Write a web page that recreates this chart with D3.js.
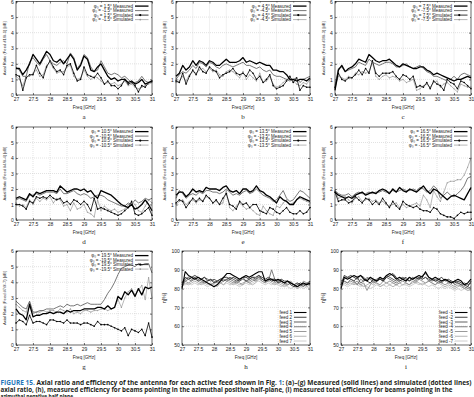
<!DOCTYPE html>
<html>
<head>
<meta charset="utf-8">
<script src="https://cdn.jsdelivr.net/npm/d3@7"></script>
<style>
	body { margin: 0; background: #fff; }
	svg { display: block; }
</style>
</head>
<body>
<svg id="fig" width="474" height="397"></svg>
<script>
// frequency samples [GHz]
var freq = [27,27.1,27.2,27.3,27.4,27.5,27.6,27.7,27.8,27.9,28,28.1,28.2,28.3,28.4,28.5,28.6,28.7,28.8,28.9,29,29.1,29.2,29.3,29.4,29.5,29.6,29.7,29.8,29.9,30,30.1,30.2,30.3,30.4,30.5,30.6,30.7,30.8,30.9,31];
var xTicks = [27,27.5,28,28.5,29,29.5,30,30.5,31];
var arTicks = [0,1,2,3,4,5,6];
var effTicks = [50,60,70,80,90,100];
var arAngles = [1.5,4.5,7.5,10.5,13.5,16.5,19.5];
var feedLabelsPos = ["feed 1","feed 2","feed 3","feed 4","feed 5","feed 6","feed 7"];
var feedLabelsNeg = ["feed -1","feed -2","feed -3","feed -4","feed -5","feed -6","feed -7"];

// axial ratio [dB]: measured +phi, measured -phi, simulated +phi, simulated -phi
var arA_mp = [1.7,1.7,1.3,1.6,2.0,2.6,2.3,2.0,2.4,2.8,2.6,2.2,2.1,2.3,2.0,2.3,2.6,2.3,1.6,1.9,2.5,2.3,1.6,1.5,1.8,2.0,1.6,1.2,1.0,1.1,0.9,1.0,1.0,0.8,0.9,0.7,0.8,1.0,0.7,0.8,0.9];
var arA_mn = [1.8,1.6,1.2,1.2,2.1,2.4,2.1,1.9,2.3,2.6,2.2,2.0,1.9,2.1,2.2,2.0,2.7,2.4,1.7,2.0,2.6,2.4,1.8,1.5,1.6,2.2,1.8,1.4,1.3,1.4,1.3,1.1,1.2,1.0,0.8,0.8,0.9,1.2,0.9,0.8,0.8];
var arA_sp = [1.3,1.2,0.3,1.1,1.3,1.3,1.9,1.4,1.1,1.8,2.2,1.8,1.5,1.6,1.3,1.9,2.0,1.4,0.9,1.0,1.8,1.3,1.2,1.1,1.4,1.1,0.7,0.9,0.6,0.6,0.4,0.6,1.0,0.7,0.8,0.6,0.2,0.6,0.5,0.8,0.9];
var arA_sn = [1.2,1.0,0.6,1.2,1.2,1.4,1.6,1.2,1.3,1.9,2.1,1.7,1.4,1.5,1.5,1.8,1.9,1.2,1.0,1.1,1.6,1.2,1.0,1.2,1.1,0.9,0.7,0.8,0.7,0.8,0.6,0.7,0.9,0.6,0.7,0.5,0.4,0.5,0.6,0.7,0.8];

var arB_mp = [1.2,1.4,1.9,1.6,1.8,2.2,1.9,2.2,2.1,1.9,2.2,2.1,1.9,1.9,2.1,2.3,2.1,2.1,2.1,2.2,2.4,2.1,2.2,2.1,2.0,2.1,2.0,1.9,1.9,1.6,1.6,1.5,1.5,1.3,1.0,1.0,0.9,1.0,1.0,0.9,1.1];
var arB_mn = [1.0,1.3,1.5,1.4,1.6,1.9,1.7,2.1,2.0,1.8,2.1,2.0,1.8,1.7,1.9,2.0,1.9,1.8,1.9,2.0,2.1,1.9,1.9,1.8,1.7,1.8,1.6,1.5,1.6,1.3,1.2,1.2,1.1,1.0,0.9,1.0,1.1,0.8,1.0,1.1,1.2];
var arB_sp = [0.9,0.8,1.4,0.7,1.2,1.6,1.3,1.8,1.5,1.4,1.8,1.6,1.5,1.1,1.3,1.4,1.5,1.7,1.4,1.3,1.4,1.2,1.6,1.4,1.0,1.2,0.8,1.0,1.3,0.6,0.4,0.5,0.6,0.9,1.2,0.8,1.1,0.3,0.6,0.5,0.5];
var arB_sn = [0.8,0.9,1.2,0.9,1.3,1.5,1.4,1.6,1.7,1.5,1.7,1.5,1.6,1.3,1.2,1.5,1.6,1.5,1.3,1.1,1.5,1.0,1.3,1.1,0.9,1.4,0.8,0.9,1.2,0.7,0.5,0.6,0.8,1.0,1.0,0.9,0.7,0.6,0.8,0.7,1.0];

var arC_mp = [0.3,1.6,1.9,1.5,1.7,1.8,2.0,2.3,2.2,2.1,2.6,2.4,2.2,2.1,2.2,2.2,2.3,2.1,1.9,1.8,2.0,1.9,1.8,1.7,1.7,1.8,1.8,1.6,1.5,1.3,1.4,1.3,1.2,1.1,1.0,0.9,1.0,1.0,1.1,1.2,1.1];
var arC_mn = [0.6,1.7,1.8,1.5,1.6,1.7,1.8,2.1,2.0,1.9,2.3,2.1,2.0,1.9,2.0,2.1,2.1,2.0,1.8,1.8,1.9,2.0,1.8,1.7,1.8,1.9,1.7,1.5,1.4,1.2,1.2,1.1,1.0,0.9,1.0,1.2,1.0,1.3,1.4,1.3,1.2];
var arC_sp = [0.5,1.4,1.0,0.9,1.1,1.1,1.3,1.6,1.3,1.7,1.4,2.2,1.4,1.2,1.4,1.4,1.4,1.5,1.2,1.0,1.3,1.2,1.0,1.2,0.5,0.6,0.5,0.8,0.4,0.9,0.7,0.6,0.3,1.0,0.8,0.7,0.4,0.9,0.8,0.6,0.4];
var arC_sn = [0.4,1.2,1.1,1.0,1.2,1.1,1.4,1.3,1.5,1.4,1.5,2.1,1.2,1.0,1.2,1.3,1.1,1.2,1.1,0.9,1.0,0.8,0.9,1.0,0.3,0.4,0.6,0.7,0.5,0.8,0.9,0.5,0.7,0.8,0.6,0.4,0.2,0.7,0.6,0.5,0.5];

var arD_mp = [1.4,1.5,1.4,1.3,1.7,1.5,1.8,1.7,1.8,1.9,1.9,1.9,1.8,2.2,2.0,1.8,1.9,2.0,2.0,1.9,2.0,1.8,1.9,1.6,1.4,1.9,1.8,1.7,1.6,1.4,1.2,1.0,0.9,0.8,1.0,0.7,0.8,1.0,1.3,1.0,0.6];
var arD_mn = [1.3,1.4,1.3,1.2,1.6,1.6,1.7,1.6,1.7,1.8,1.8,1.8,1.7,2.0,1.7,1.7,1.8,1.9,1.7,1.6,1.7,1.6,1.4,1.5,1.6,1.6,1.5,1.3,1.2,1.1,1.0,0.9,0.9,1.1,1.0,1.3,1.1,1.2,1.4,1.3,1.4];
var arD_sp = [1.0,1.0,0.9,0.7,1.2,1.1,1.5,1.4,1.5,1.4,1.6,1.4,1.3,1.4,1.1,1.2,1.0,1.3,1.2,1.0,1.2,1.0,0.6,1.4,0.7,0.8,0.7,0.6,0.5,0.4,0.3,0.4,0.6,0.8,1.2,0.4,0.3,0.4,0.6,0.8,0.3];
var arD_sn = [1.1,0.9,1.0,0.8,1.3,1.0,1.4,1.2,1.4,1.3,1.5,1.1,1.4,1.3,0.9,1.0,0.6,1.1,0.7,0.8,1.0,0.5,0.4,0.2,1.3,0.6,0.9,0.7,0.6,0.7,0.5,0.6,0.7,1.0,1.1,1.0,0.6,0.5,0.9,1.3,1.1];

var arE_mp = [1.6,1.8,1.8,1.5,1.7,2.0,1.8,1.9,1.8,2.1,2.0,2.0,2.0,1.9,2.1,2.2,1.9,1.8,1.9,1.7,2.0,2.0,1.8,1.9,2.2,1.9,1.8,1.6,1.5,1.3,1.1,1.5,1.3,1.2,1.0,1.0,1.3,1.5,1.4,1.3,1.2];
var arE_mn = [1.4,1.9,1.7,1.4,1.6,1.7,1.6,1.8,1.7,1.9,1.9,1.8,1.8,1.7,1.8,2.0,1.8,1.6,1.7,1.6,1.8,1.9,1.7,1.8,2.0,1.8,1.6,1.5,1.4,1.2,1.3,1.6,1.9,1.4,1.2,1.3,1.6,1.9,1.8,1.6,1.4];
var arE_sp = [1.1,1.3,1.2,0.8,1.1,1.4,1.2,1.4,1.2,1.6,1.4,1.1,1.3,1.0,1.4,1.7,1.0,0.9,0.7,1.2,1.0,1.1,0.8,1.0,1.0,0.6,0.5,0.4,0.8,0.7,0.5,0.4,0.6,0.8,0.5,0.4,0.4,0.6,0.4,0.5,0.8];
var arE_sn = [1.0,1.2,1.3,1.0,1.2,1.3,1.1,1.3,1.2,1.5,1.4,1.1,1.2,1.0,1.1,1.9,0.8,0.6,0.9,1.1,0.9,0.7,0.8,0.6,0.4,0.3,0.9,0.6,0.4,0.3,0.9,0.8,1.1,1.3,1.0,1.1,1.3,1.4,1.3,1.2,1.1];

var arF_mp = [1.8,1.6,1.5,1.4,1.5,1.4,1.6,1.7,1.8,1.6,1.7,1.8,1.7,1.9,2.0,1.9,1.7,2.0,1.8,2.1,1.9,1.8,2.0,1.9,1.8,2.0,2.2,1.9,1.7,2.0,1.9,1.7,1.5,1.3,1.5,1.6,1.5,1.4,1.3,1.7,2.1];
var arF_mn = [1.9,1.7,1.6,1.6,1.7,1.5,1.7,1.8,1.7,1.7,1.8,1.7,1.8,1.8,1.9,1.8,1.8,1.9,1.8,1.9,2.0,1.9,1.9,2.0,1.9,2.1,2.0,1.8,1.9,2.2,2.0,1.4,1.6,1.8,1.6,1.5,1.7,1.9,2.2,2.7,2.8];
var arF_sp = [1.8,1.2,1.3,1.3,1.1,1.2,1.5,1.3,1.1,1.4,1.3,1.0,1.2,1.0,1.4,1.1,0.8,1.2,0.9,0.7,1.2,1.0,0.9,0.8,0.9,0.7,0.6,0.6,0.5,0.8,0.7,0.4,0.3,0.2,0.2,0.1,0.3,0.5,0.4,0.5,0.5];
var arF_sn = [1.9,1.4,1.5,1.5,1.3,1.1,1.4,1.5,1.2,1.3,1.4,1.2,1.3,1.1,1.2,1.0,0.9,1.0,1.1,0.8,1.0,0.8,0.9,1.0,1.1,0.9,1.6,1.3,0.8,1.9,1.5,1.2,1.8,2.4,2.5,2.5,2.6,2.6,2.9,3.4,4.0];

var arG_mp = [2.3,2.0,1.9,1.6,2.6,1.8,1.9,1.9,2.0,2.0,2.1,2.0,2.1,2.1,2.0,2.2,2.1,2.2,2.2,2.2,2.3,2.3,2.3,2.3,2.4,2.4,2.3,2.5,2.3,2.4,3.1,2.9,3.4,3.2,3.5,3.1,3.6,3.2,3.7,3.6,3.7];
var arG_mn = [2.8,2.6,2.4,2.3,2.8,2.1,2.1,2.2,2.2,2.3,2.3,2.3,2.4,2.5,2.4,2.6,2.5,2.5,2.6,2.5,2.6,2.7,2.6,2.6,2.6,2.6,2.9,3.3,3.6,4.0,4.5,4.9,5.0,5.1,5.1,5.0,5.2,5.1,5.2,5.2,4.6];
var arG_sp = [1.4,1.6,1.5,1.3,1.9,1.4,1.5,1.5,1.4,1.3,1.6,1.6,1.5,1.5,1.4,1.6,1.4,1.4,1.4,1.3,1.4,1.4,1.3,1.2,1.5,1.3,1.3,1.3,1.2,1.1,1.0,0.9,1.1,0.6,1.0,0.9,0.8,1.0,0.6,1.4,0.5];
var arG_sn = [2.6,2.4,2.2,2.1,2.7,2.0,2.1,2.1,2.2,2.1,2.2,2.2,2.1,2.3,2.2,2.1,2.3,2.0,2.1,2.0,2.2,2.2,2.1,2.2,2.2,2.3,2.3,2.2,2.3,2.4,2.9,2.4,3.0,3.4,3.6,3.2,3.5,3.8,2.9,4.3,3.0];

// efficiency [%], feeds 1..7 (h) and -1..-7 (i)
var effH1 = [80,89,87,86,85,86,85,84,83,82,81,82,84,86,88,88,87,86,85,86,87,86,87,88,89,89,84,85,85,84,85,84,83,84,83,82,81,82,83,82,83];
var effH2 = [83,86,85,86,87,86,85,86,84,85,83,84,85,86,86,85,86,85,84,86,86,85,86,86,87,86,85,86,85,85,84,85,84,84,82,81,82,83,82,82,84];
var effH3 = [82,85,86,85,86,84,85,86,85,84,85,84,85,84,85,86,85,84,85,86,84,85,86,85,87,85,84,85,84,85,83,84,83,84,83,82,83,82,81,83,82];
var effH4 = [81,84,85,84,86,85,84,83,84,85,84,83,84,85,84,85,84,83,84,85,84,84,85,84,86,85,84,84,90,85,83,84,83,82,83,82,81,82,83,82,83];
var effH5 = [83,84,83,84,85,84,83,84,83,82,83,84,83,84,85,84,83,84,83,82,84,83,84,85,86,84,83,85,84,83,84,83,82,83,84,82,83,82,84,83,84];
var effH6 = [81,83,82,83,84,83,82,83,82,83,82,81,83,82,84,83,82,83,82,83,84,83,82,83,85,84,83,84,83,82,83,82,81,82,83,82,80,81,82,81,82];
var effH7 = [82,82,83,82,83,82,83,82,81,82,83,82,83,82,83,82,83,82,81,82,83,82,83,84,84,83,82,83,82,83,82,81,82,81,80,81,80,81,80,81,80];

var effI1 = [80,86,85,86,87,86,87,85,84,86,85,84,86,85,87,88,87,85,86,85,84,86,85,86,87,86,89,86,85,86,85,84,85,84,83,84,85,84,82,83,85];
var effI2 = [82,87,86,87,86,85,87,86,84,83,85,84,85,84,86,87,88,86,84,85,86,84,85,86,85,87,88,86,85,84,85,86,84,85,84,83,84,83,82,81,84];
var effI3 = [84,85,86,85,84,86,83,84,85,86,84,85,86,84,87,86,85,84,85,86,85,84,86,85,86,85,86,85,84,85,84,83,85,84,83,84,83,82,83,82,83];
var effI4 = [82,84,83,85,84,82,85,84,86,85,83,84,85,84,86,85,84,83,84,85,84,86,85,84,86,85,86,84,85,84,83,84,85,83,84,82,83,82,81,80,81];
var effI5 = [83,84,83,84,83,84,82,83,79,82,84,83,82,84,83,84,83,82,83,84,83,82,84,83,85,84,83,84,83,82,84,83,82,83,82,81,82,81,80,81,80];
var effI6 = [81,83,82,83,82,83,82,81,82,83,82,83,81,82,83,82,81,82,83,82,83,82,83,84,83,82,83,84,83,82,83,82,81,82,81,80,81,82,80,79,80];
var effI7 = [82,82,81,82,83,82,81,82,81,80,81,82,81,82,81,82,83,82,81,82,82,81,82,83,82,83,82,81,82,81,80,81,80,81,80,79,80,79,80,79,79];

var svg = d3.select("#fig");
var SANS = "'Liberation Sans', Arial, sans-serif";

// line styles: measured +, measured -, simulated +, simulated -
var arStyles = [
	{ color: "#000", width: 1.3, r: 0 },
	{ color: "#555", width: 0.8, r: 0 },
	{ color: "#000", width: 0.8, r: 0.8 },
	{ color: "#9a9a9a", width: 0.7, r: 0.6 }
];
var effColors = ["#000", "#2e2e2e", "#4e4e4e", "#6e6e6e", "#8e8e8e", "#adadad", "#c8c8c8"];

function drawPanel(p) {
	var x = d3.scaleLinear().domain([27, 31]).range([p.x0, p.x1]);
	var y = d3.scaleLinear().domain([p.yTicks[0], p.yTicks[p.yTicks.length - 1]]).range([p.y1, p.y0]);
	var g = svg.append("g");

	// dotted grid
	g.selectAll(".gx").data(xTicks.slice(1, -1)).enter().append("line")
		.attr("x1", d => x(d)).attr("x2", d => x(d))
		.attr("y1", p.y0).attr("y2", p.y1)
		.attr("stroke", "#c4c4c4").attr("stroke-width", 0.5).attr("stroke-dasharray", "1,1");
	g.selectAll(".gy").data(p.yTicks.slice(1, -1)).enter().append("line")
		.attr("x1", p.x0).attr("x2", p.x1)
		.attr("y1", d => y(d)).attr("y2", d => y(d))
		.attr("stroke", "#c4c4c4").attr("stroke-width", 0.5).attr("stroke-dasharray", "1,1");

	// axes with small inward ticks on all four sides
	var xa = g.append("g").attr("transform", "translate(0," + p.y1 + ")")
		.call(d3.axisBottom(x).tickValues(xTicks).tickSize(-2).tickPadding(2.6).tickFormat(d => d));
	var xt = g.append("g").attr("transform", "translate(0," + p.y0 + ")")
		.call(d3.axisTop(x).tickValues(xTicks).tickSize(-2).tickFormat(""));
	var ya = g.append("g").attr("transform", "translate(" + p.x0 + ",0)")
		.call(d3.axisLeft(y).tickValues(p.yTicks).tickSize(-2).tickPadding(2.2).tickFormat(d => d));
	var yr = g.append("g").attr("transform", "translate(" + p.x1 + ",0)")
		.call(d3.axisRight(y).tickValues(p.yTicks).tickSize(-2).tickFormat(""));
	[xa, xt, ya, yr].forEach(function(a) {
		a.attr("font-size", 5).attr("font-family", SANS);
		a.select(".domain").remove();
		a.selectAll(".tick line").attr("stroke", "#000").attr("stroke-width", 0.5);
		a.selectAll(".tick text").attr("fill", "#222");
	});

	g.append("text")
		.text("Freq [GHz]")
		.attr("x", (p.x0 + p.x1) / 2)
		.attr("y", p.y1 + 13.5)
		.attr("text-anchor", "middle")
		.attr("fill", "#222")
		.style("font-size", "4.6px")
		.style("font-family", SANS);

	var yl = g.append("text")
		.text(p.yLabel)
		.attr("transform", "translate(" + (p.x0 - p.yLabelOff) + "," + ((p.y0 + p.y1) / 2) + ") rotate(-90)")
		.attr("text-anchor", "middle")
		.attr("fill", "#222")
		.style("font-size", p.yLabelSize + "px")
		.style("font-family", SANS);
	if (p.yLabelLen) yl.attr("textLength", p.yLabelLen).attr("lengthAdjust", "spacingAndGlyphs");

	g.append("text")
		.text(p.letter)
		.attr("x", (p.x0 + p.x1) / 2)
		.attr("y", p.y1 + p.letterOff)
		.attr("text-anchor", "middle")
		.attr("fill", "#222")
		.style("font-size", "7px")
		.style("font-family", "'Liberation Serif', serif");

	// legend background hides the grid behind the key
	if (p.legendTop) {
		g.append("rect")
			.attr("x", p.x1 - 63).attr("y", p.y0 + 1)
			.attr("width", 62).attr("height", 21)
			.attr("fill", "#fff");
	}

	var line = d3.line().x((d, i) => x(freq[i])).y(d => y(d));
	var order = d3.range(p.series.length).reverse();
	order.forEach(function(k) {
		var s = p.series[k];
		g.append("path")
			.datum(s.values)
			.attr("d", line)
			.attr("fill", "none")
			.attr("stroke", s.color)
			.attr("stroke-width", s.width)
			.attr("stroke-linejoin", "round");
		if (s.r > 0) {
			g.selectAll(null).data(s.values).enter().append("circle")
				.attr("cx", (d, i) => x(freq[i]))
				.attr("cy", d => y(d))
				.attr("r", s.r)
				.attr("fill", s.color);
		}
	});

	// key
	var n = p.series.length;
	var key = g.append("g").style("font-family", SANS).style("font-size", p.keySize + "px");
	p.series.forEach(function(s, i) {
		var cy = p.legendTop ? p.y0 + 4.6 + i * 4.5 : p.y1 - 4 - (n - 1 - i) * 4.75;
		key.append("text")
			.text(s.label)
			.attr("x", p.x1 - p.keyTextOff)
			.attr("y", cy + 1.6)
			.attr("text-anchor", "end")
			.attr("fill", "#222");
		key.append("line")
			.attr("x1", p.x1 - p.keyTextOff + 2).attr("x2", p.x1 - 3.5)
			.attr("y1", cy).attr("y2", cy)
			.attr("stroke", s.color).attr("stroke-width", s.width);
		if (s.r > 0) {
			key.append("circle")
				.attr("cx", p.x1 - (p.keyTextOff + 1.5) / 2 - 1.5).attr("cy", cy)
				.attr("r", s.r + 0.3).attr("fill", s.color);
		}
	});

	// frame
	g.append("rect")
		.attr("x", p.x0).attr("y", p.y0)
		.attr("width", p.x1 - p.x0).attr("height", p.y1 - p.y0)
		.attr("fill", "none").attr("stroke", "#000").attr("stroke-width", 0.6);
}

var arData = [
	[arA_mp, arA_mn, arA_sp, arA_sn],
	[arB_mp, arB_mn, arB_sp, arB_sn],
	[arC_mp, arC_mn, arC_sp, arC_sn],
	[arD_mp, arD_mn, arD_sp, arD_sn],
	[arE_mp, arE_mn, arE_sp, arE_sn],
	[arF_mp, arF_mn, arF_sp, arF_sn],
	[arG_mp, arG_mn, arG_sp, arG_sn]
];
var effH = [effH1, effH2, effH3, effH4, effH5, effH6, effH7];
var effI = [effI1, effI2, effI3, effI4, effI5, effI6, effI7];

var colX = [[16, 152], [176, 310], [335, 471]];
var rowY = [[1.5, 95], [127, 220], [251, 345]];
var letters = ["a", "b", "c", "d", "e", "f", "g"];

arData.forEach(function(sets, k) {
	var a = arAngles[k];
	var names = [
		"\u03c6\u2080 = " + a + "\u00b0 Measured",
		"\u03c6\u2080 = -" + a + "\u00b0 Measured",
		"\u03c6\u2080 = " + a + "\u00b0 Simulated",
		"\u03c6\u2080 = -" + a + "\u00b0 Simulated"
	];
	var c = colX[k % 3], r = rowY[Math.floor(k / 3)];
	drawPanel({
		x0: c[0], x1: c[1], y0: r[0], y1: r[1],
		yTicks: arTicks,
		yLabel: "Axial Ratio (Feed #" + (k + 1) + "/#-" + (k + 1) + ") [dB]",
		yLabelOff: 10.5, yLabelSize: 4.2, yLabelLen: 54,
		letter: letters[k], letterOff: 24,
		legendTop: true, keySize: 4.5, keyTextOff: 19,
		series: sets.map(function(v, i) {
			return { values: v, label: names[i], color: arStyles[i].color, width: arStyles[i].width, r: arStyles[i].r };
		})
	});
});

[[effH, feedLabelsPos, [182, 310], "h"], [effI, feedLabelsNeg, [341, 471], "i"]].forEach(function(e) {
	drawPanel({
		x0: e[2][0], x1: e[2][1], y0: rowY[2][0], y1: rowY[2][1],
		yTicks: effTicks,
		yLabel: "\u03b7[%]",
		yLabelOff: 16, yLabelSize: 5,
		letter: e[3], letterOff: 24,
		legendTop: false, keySize: 4.5, keyTextOff: 18,
		series: e[0].map(function(v, i) {
			return { values: v, label: e[1][i], color: effColors[i], width: i == 0 ? 1.1 : 0.9, r: 0 };
		})
	});
});

// caption (third line is cut by the bottom edge, as in the source figure)
var cap = svg.append("g")
	.style("font-family", "'Open Sans', 'Liberation Sans', sans-serif")
	.style("font-weight", "bold")
	.style("font-size", "6.6px")
	.attr("fill", "#231f20");
var l1 = cap.append("text").attr("x", 0.5).attr("y", 384.5)
	.attr("textLength", 471).attr("lengthAdjust", "spacingAndGlyphs");
l1.append("tspan").attr("fill", "#1f75b8").text("FIGURE 15.");
l1.append("tspan").text(" Axial ratio and efficiency of the antenna for each active feed shown in Fig. ");
l1.append("tspan").attr("fill", "#1f75b8").text("1");
l1.append("tspan").text(": (a)\u2013(g) Measured (solid lines) and simulated (dotted lines)");
cap.append("text").attr("x", 0.5).attr("y", 391.5)
	.attr("textLength", 452).attr("lengthAdjust", "spacingAndGlyphs")
	.text("axial ratio, (h), measured efficiency for beams pointing in the azimuthal positive half-plane, (i) measured total efficiency for beams pointing in the");
cap.append("text").attr("x", 0.5).attr("y", 398.5)
	.attr("textLength", 74).attr("lengthAdjust", "spacingAndGlyphs")
	.text("azimuthal negative half-plane.");
</script>
</body>
</html>
